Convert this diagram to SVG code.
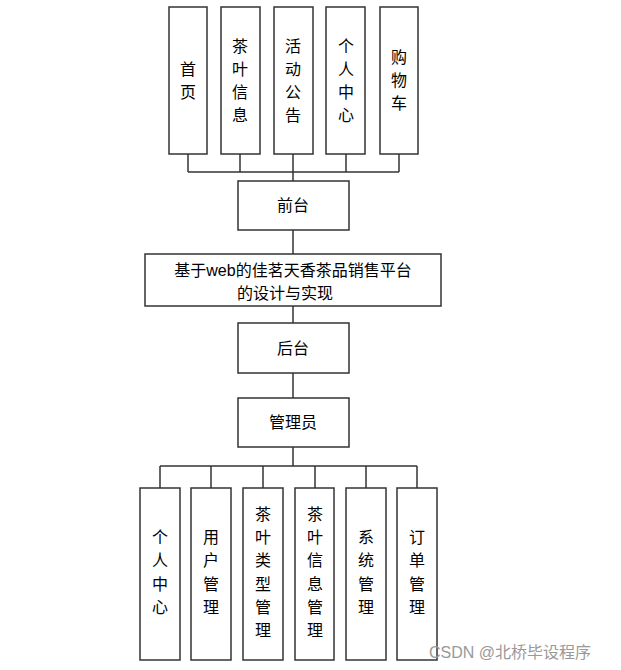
<svg xmlns="http://www.w3.org/2000/svg" width="621" height="670" viewBox="0 0 621 670">
<style>
rect{fill:#fff;stroke:#333;stroke-width:1.5}
text{font-family:"Liberation Sans","Noto Sans CJK SC",sans-serif;font-size:16px;fill:#000;text-anchor:middle}
.c line{stroke:#333;stroke-width:1.5}
</style>
<rect x="0" y="0" width="621" height="670" style="stroke:none"/>
<g class="c">
<line x1="188" y1="154" x2="188" y2="172"/><line x1="240" y1="154" x2="240" y2="172"/><line x1="293" y1="154" x2="293" y2="181"/><line x1="346" y1="154" x2="346" y2="172"/><line x1="399" y1="154" x2="399" y2="172"/>
<line x1="188" y1="172" x2="399" y2="172"/>
<line x1="293" y1="230" x2="293" y2="254"/><line x1="293" y1="306" x2="293" y2="323"/><line x1="293" y1="373" x2="293" y2="398"/><line x1="293" y1="447" x2="293" y2="466"/>
<line x1="160" y1="466" x2="417" y2="466"/>
<line x1="160" y1="466" x2="160" y2="488"/><line x1="211" y1="466" x2="211" y2="488"/><line x1="263" y1="466" x2="263" y2="488"/><line x1="315" y1="466" x2="315" y2="488"/><line x1="366" y1="466" x2="366" y2="488"/><line x1="417" y1="466" x2="417" y2="488"/>
</g>
<g id="n1"><rect x="169" y="7" width="38" height="147"/><text x="188" y="75">首</text><text x="188" y="98">页</text></g>
<g id="n2"><rect x="221" y="7" width="39" height="147"/><text x="240" y="52">茶</text><text x="240" y="75">叶</text><text x="240" y="98">信</text><text x="240" y="121">息</text></g>
<g id="n3"><rect x="274" y="7" width="39" height="147"/><text x="293" y="52">活</text><text x="293" y="75">动</text><text x="293" y="98">公</text><text x="293" y="121">告</text></g>
<g id="n4"><rect x="326" y="7" width="39" height="147"/><text x="346" y="52">个</text><text x="346" y="75">人</text><text x="346" y="98">中</text><text x="346" y="121">心</text></g>
<g id="n5"><rect x="380" y="7" width="38" height="147"/><text x="399" y="63">购</text><text x="399" y="86">物</text><text x="399" y="109">车</text></g>
<g id="qt"><rect x="238" y="181" width="111" height="49"/><text x="293" y="211">前台</text></g>
<g id="title"><rect x="145" y="254" width="296" height="52"/><text x="293" y="276">基于web的佳茗天香茶品销售平台</text><text x="293" y="299" style="text-anchor:start" dx="-56">的设计与实现</text></g>
<g id="ht"><rect x="238" y="323" width="111" height="50"/><text x="293" y="354">后台</text></g>
<g id="gly"><rect x="238" y="398" width="111" height="49"/><text x="293" y="428">管理员</text></g>
<g id="b1"><rect x="140" y="488" width="40" height="172"/><text x="160" y="543">个</text><text x="160" y="566">人</text><text x="160" y="590">中</text><text x="160" y="613">心</text></g>
<g id="b2"><rect x="191" y="488" width="40" height="172"/><text x="211" y="543">用</text><text x="211" y="566">户</text><text x="211" y="590">管</text><text x="211" y="613">理</text></g>
<g id="b3"><rect x="243" y="488" width="40" height="172"/><text x="263" y="520">茶</text><text x="263" y="543">叶</text><text x="263" y="566">类</text><text x="263" y="590">型</text><text x="263" y="613">管</text><text x="263" y="636">理</text></g>
<g id="b4"><rect x="295" y="488" width="39" height="172"/><text x="315" y="520">茶</text><text x="315" y="543">叶</text><text x="315" y="566">信</text><text x="315" y="590">息</text><text x="315" y="613">管</text><text x="315" y="636">理</text></g>
<g id="b5"><rect x="346" y="488" width="40" height="172"/><text x="366" y="543">系</text><text x="366" y="566">统</text><text x="366" y="590">管</text><text x="366" y="613">理</text></g>
<g id="b6"><rect x="397" y="488" width="40" height="172"/><text x="417" y="543">订</text><text x="417" y="566">单</text><text x="417" y="590">管</text><text x="417" y="613">理</text></g>
<text x="510" y="658" style="fill:#999;font-size:16px">CSDN @北桥毕设程序</text>
</svg>
